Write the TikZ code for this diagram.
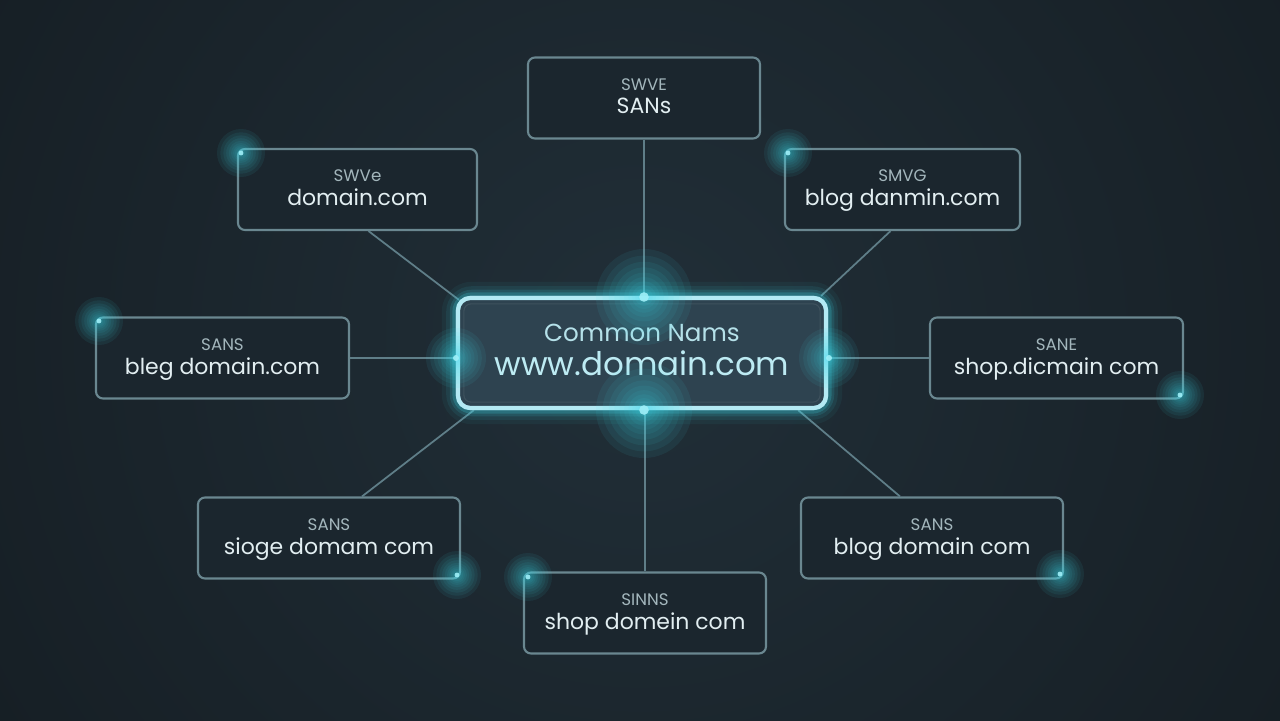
\documentclass[tikz,border=0pt]{standalone}
\usepackage{fontspec}
\setmainfont{Poppins}
\usetikzlibrary{calc}
\definecolor{bgc}{HTML}{212F38}
\definecolor{bge}{HTML}{0F1418}
\definecolor{boxfill}{HTML}{1B262E}
\definecolor{boxline}{HTML}{6A8790}
\definecolor{conn}{HTML}{5F7E88}
\definecolor{maintext}{HTML}{E2EEF1}
\definecolor{subtext}{HTML}{A3B6BC}
\definecolor{glowc}{HTML}{3FE0F0}
\definecolor{cfill}{HTML}{2E4350}
\definecolor{cline}{HTML}{B4EAF4}
\definecolor{ctext}{HTML}{BDEBF3}
\tikzset{
  leaf/.style={draw=boxline, line width=1.2pt, fill=boxfill, rounded corners=4pt,
    minimum height=81*0.02cm, inner sep=0pt, align=center},
  centerbox/.style={draw=cline, line width=2.4pt, fill=cfill, rounded corners=7pt,
    minimum width=368*0.02cm, minimum height=110*0.02cm, inner sep=0pt, align=center},
  link/.style={draw=conn, line width=1pt},
}
\newcommand{\lbl}[2]{\raisebox{-5pt}{\begin{tabular}{@{}c@{}}{\fontsize{9.5}{11}\selectfont\color{subtext}#1}\\[0.5pt]{\fontsize{12.5}{15}\selectfont\color{maintext}#2}\end{tabular}}}
\newcommand{\glowdot}[3]{%
  \foreach \i in {1,...,14}
    {\fill[glowc, opacity=0.07] (#1,#2) circle ({#3*\i*\i/196});}
  \fill[glowc!50!white, opacity=0.9] (#1,#2) circle ({0.1*#3});}
\begin{document}
\begin{tikzpicture}[x=0.02cm,y=-0.02cm]
\useasboundingbox (0,0) rectangle (1280,720);
\begin{scope}
\clip (0,0) rectangle (1280,720);
\fill[bge] (0,0) rectangle (1280,720);
\shade[inner color=bgc, outer color=bge] (640,340) circle (1250);
\end{scope}

\node[centerbox] (c) at (642,353) {};
\node[leaf, minimum width=232*0.02cm] (t) at (644,98) {\lbl{SWVE}{SANs}};
\node[leaf, minimum width=239*0.02cm] (tl) at (357.5,189.5) {\lbl{SWVe}{domain.com}};
\node[leaf, minimum width=235*0.02cm] (tr) at (902.5,189.5) {\lbl{SMVG}{blog danmin.com}};
\node[leaf, minimum width=253*0.02cm] (l) at (222.5,358) {\lbl{SANS}{bleg domain.com}};
\node[leaf, minimum width=253*0.02cm] (r) at (1056.5,358) {\lbl{SANE}{shop.dicmain com}};
\node[leaf, minimum width=262*0.02cm] (bl) at (329,538) {\lbl{SANS}{sioge domam com}};
\node[leaf, minimum width=262*0.02cm] (br) at (932,538) {\lbl{SANS}{blog domain com}};
\node[leaf, minimum width=242*0.02cm] (b) at (645,613) {\lbl{SINNS}{shop domein com}};

% connectors
\draw[link] (t.south) -- (t.south |- c.north);
\draw[link] (b.north) -- (b.north |- c.south);
\draw[link] (l.east) -- (l.east -| c.west);
\draw[link] (r.west) -- (r.west -| c.east);
\draw[link] ($(tl.south)+(11,0)$) -- ($(c.north west)+(3,4)$);
\draw[link] ($(tr.south)+(-12,0)$) -- ($(c.north east)+(-7,0)$);
\draw[link] ($(bl.north)+(33,0)$) -- ($(c.south west)+(18,0)$);
\draw[link] ($(br.north)+(-32,0)$) -- ($(c.south east)+(-30,0)$);

% center glow
\foreach \w/\o in {16/0.05, 11/0.08, 7/0.12, 4/0.2}
  \draw[glowc, line width=\w pt, opacity=\o, rounded corners=9pt] (c.north west) rectangle (c.south east);
\node[centerbox] (c2) at (c) {};
\draw[white, opacity=0.08, line width=0.6pt, rounded corners=4pt] ($(c.north west)+(8,8)$) rectangle ($(c.south east)+(-8,-8)$);
\node[align=center] (ct) at (c) {\raisebox{4pt}{\begin{tabular}{@{}c@{}}{\fontsize{14}{16}\selectfont\color{ctext!90!boxline}Common Nams}\\[2pt]{\fontsize{18.5}{21}\selectfont\color{ctext}www.domain.com}\end{tabular}}};

\glowdot{644}{297}{48}
\glowdot{644}{410}{48}
\glowdot{456}{358}{30}
\glowdot{829}{358}{30}

% corner glow dots
\glowdot{241}{153}{24}
\glowdot{788}{153}{24}
\glowdot{99}{321}{24}
\glowdot{1180}{395}{24}
\glowdot{457}{575}{24}
\glowdot{1060}{574}{24}
\glowdot{528}{577}{24}
\end{tikzpicture}
\end{document}
